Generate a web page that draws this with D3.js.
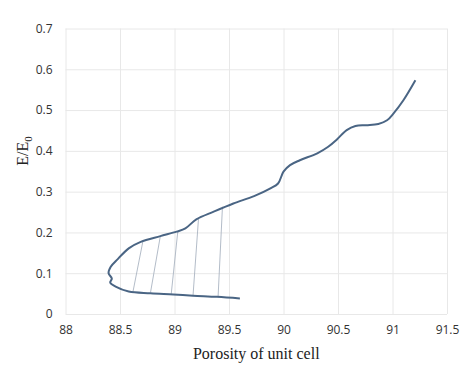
<!DOCTYPE html>
<html>
<head>
<meta charset="utf-8">
<script src="https://cdn.jsdelivr.net/npm/d3@7"></script>
<style>
  body { margin: 0; background: #fff; }
  .tick text { font-family: "Open Sans", "DejaVu Sans", sans-serif; font-size: 12px; fill: #333; }
  .grid line { stroke: #e8e8e8; }
  .grid path { display: none; }
</style>
</head>
<body>
<div id="graph"></div>
<script>
// curve points, drawn from the lower right end round the tip and up
var porosity = [89.60, 89.39, 89.17, 88.99, 88.78, 88.58, 88.46, 88.41, 88.425, 88.395, 88.415, 88.47, 88.58, 88.69, 88.87, 89.02, 89.10, 89.20, 89.36, 89.54, 89.73, 89.88, 89.95, 90.00, 90.06, 90.15, 90.31, 90.41, 90.49, 90.58, 90.66, 90.76, 90.87, 90.95, 91.01, 91.10, 91.21];
var ratio    = [0.038, 0.042, 0.045, 0.048, 0.051, 0.055, 0.067, 0.077, 0.087, 0.100, 0.116, 0.132, 0.161, 0.177, 0.191, 0.202, 0.210, 0.232, 0.251, 0.271, 0.289, 0.308, 0.320, 0.349, 0.365, 0.377, 0.394, 0.410, 0.428, 0.451, 0.461, 0.463, 0.466, 0.475, 0.492, 0.524, 0.573];

// thin hatch lines between the two branches
var hatchX0 = [88.62, 88.78, 88.97, 89.17, 89.40];
var hatchY0 = [0.056, 0.053, 0.049, 0.045, 0.043];
var hatchX1 = [88.71, 88.87, 89.03, 89.22, 89.44];
var hatchY1 = [0.178, 0.191, 0.202, 0.233, 0.263];

var xTicks = [88, 88.5, 89, 89.5, 90, 90.5, 91, 91.5];
var yTicks = [0, 0.1, 0.2, 0.3, 0.4, 0.5, 0.6, 0.7];

var W = 474, H = 366;
var margin = {top: 28.5, right: 27, bottom: 52, left: 65.5},
    width = W - margin.left - margin.right,
    height = H - margin.top - margin.bottom;

var x = d3.scaleLinear().domain([88, 91.5]).range([0, width]);
var y = d3.scaleLinear().domain([0, 0.7]).range([height, 0]);

var svg = d3.select("#graph")
    .append("svg")
    .attr("width", W)
    .attr("height", H)
    .append("g")
    .attr("transform", "translate(" + margin.left + "," + margin.top + ")");

// gridlines
svg.append("g")
    .attr("class", "grid")
    .call(d3.axisLeft(y).tickValues(yTicks).tickSize(-width).tickFormat(""));
svg.append("g")
    .attr("class", "grid")
    .attr("transform", "translate(0," + height + ")")
    .call(d3.axisBottom(x).tickValues(xTicks).tickSize(-height).tickFormat(""));

// axes labels
var xaxis = svg.append("g")
    .attr("transform", "translate(0," + height + ")")
    .call(d3.axisBottom(x).tickValues(xTicks).tickSize(0).tickPadding(11).tickFormat(d3.format("")));
xaxis.select(".domain").remove();

var yaxis = svg.append("g")
    .call(d3.axisLeft(y).tickValues(yTicks).tickSize(0).tickPadding(13).tickFormat(d3.format("")));
yaxis.select(".domain").remove();

// hatching
svg.selectAll(".hatch")
    .data(hatchX0)
    .enter()
    .append("line")
    .attr("class", "hatch")
    .attr("x1", function(d, i) { return x(hatchX0[i]); })
    .attr("y1", function(d, i) { return y(hatchY0[i]); })
    .attr("x2", function(d, i) { return x(hatchX1[i]); })
    .attr("y2", function(d, i) { return y(hatchY1[i]); })
    .attr("stroke", "#aab4c2")
    .attr("stroke-width", 0.9);

// main curve
var pts = porosity.map(function(p, i) { return [p, ratio[i]]; });
var valueLine = d3.line()
    .x(function(d) { return x(d[0]); })
    .y(function(d) { return y(d[1]); })
    .curve(d3.curveCatmullRom.alpha(0.5));

svg.append("path")
    .datum(pts)
    .attr("d", valueLine)
    .attr("fill", "none")
    .attr("stroke", "#4a6584")
    .attr("stroke-width", 2);

// axis titles
svg.append("text")
    .attr("x", width / 2)
    .attr("y", height + 45)
    .attr("text-anchor", "middle")
    .style("font-family", "'Liberation Serif', 'Times New Roman', serif")
    .style("font-size", "16px")
    .style("fill", "#222")
    .text("Porosity of unit cell");

var yl = svg.append("text")
    .attr("transform", "translate(" + (28 - margin.left) + "," + (151 - margin.top) + ") rotate(-90)")
    .attr("text-anchor", "middle")
    .style("font-family", "'Liberation Serif', 'Times New Roman', serif")
    .style("font-size", "16px")
    .style("fill", "#222");
yl.append("tspan").text("E/E");
yl.append("tspan").attr("dy", 4).style("font-size", "11px").text("0");
</script>
</body>
</html>
